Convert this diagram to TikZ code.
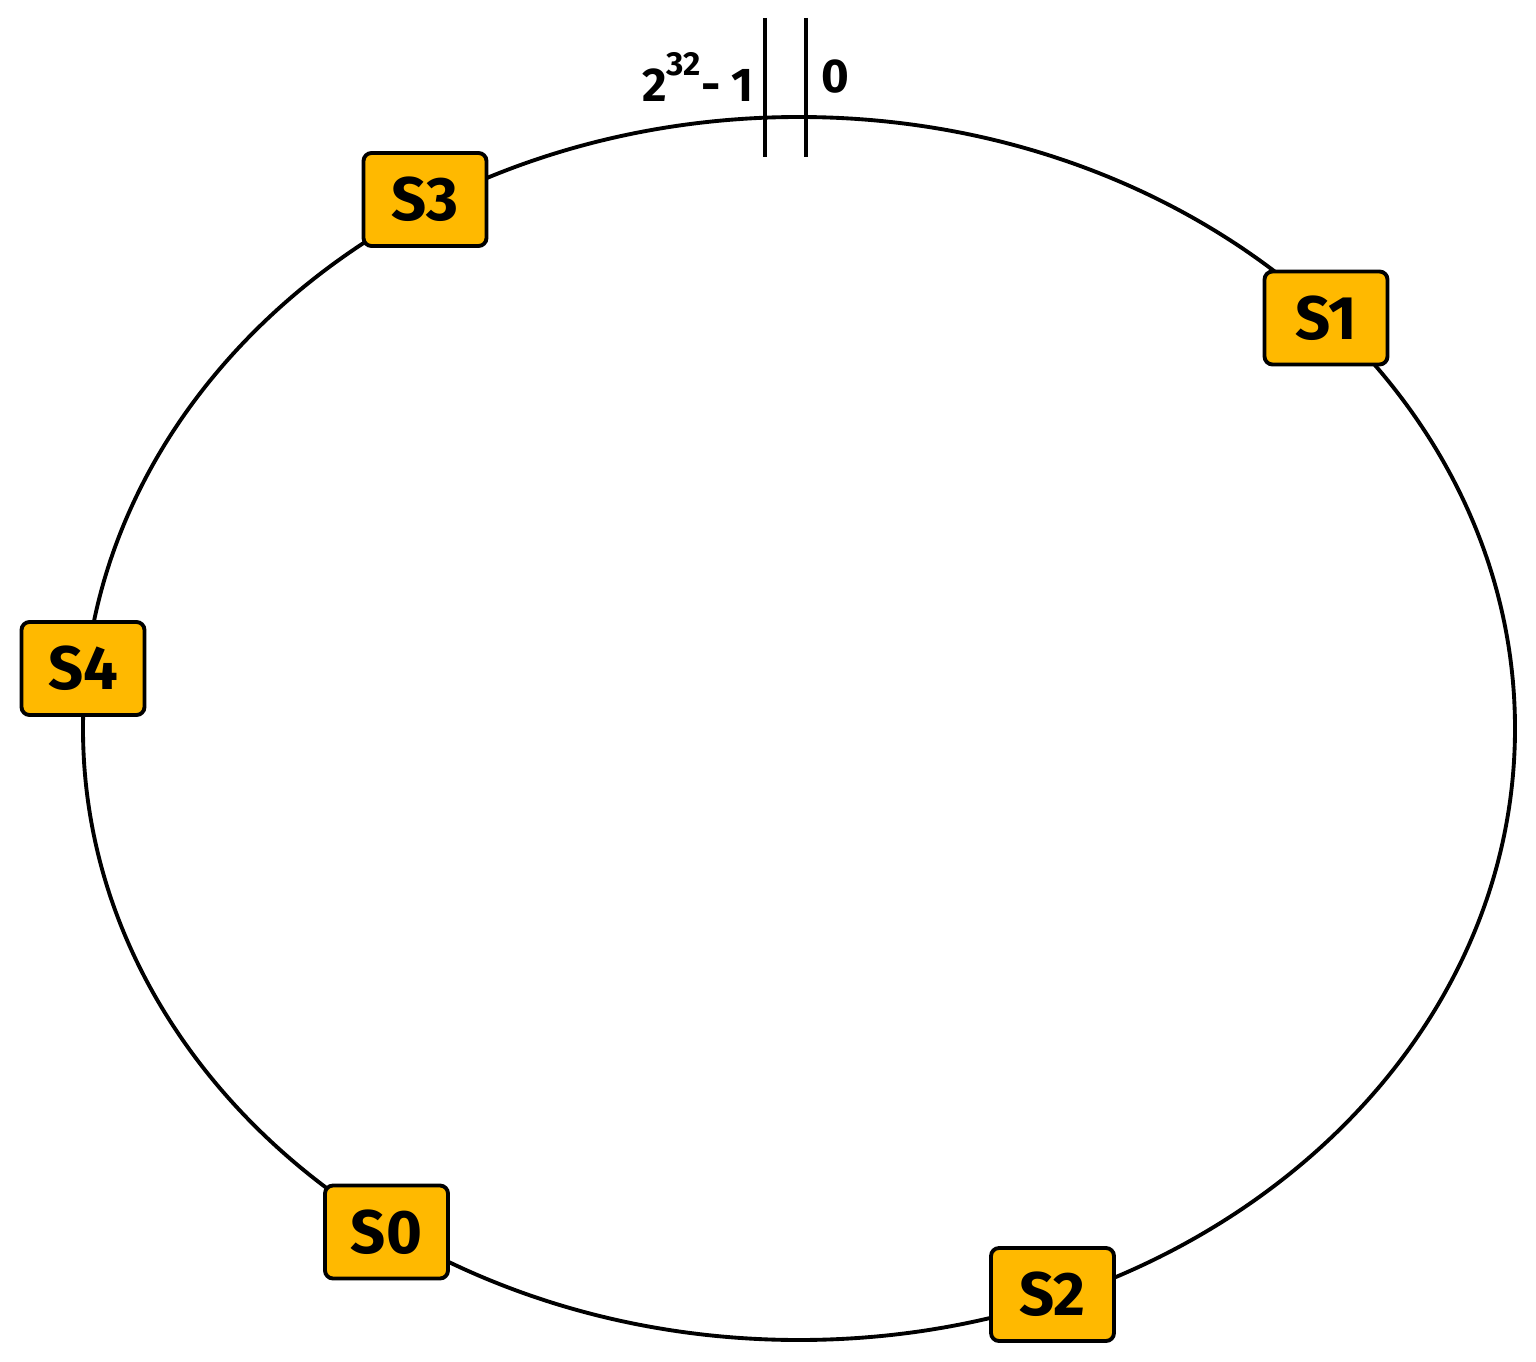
\documentclass[tikz,border=0pt]{standalone}
\usepackage{fontspec}
\setmainfont{Fira Sans}
\definecolor{serverfill}{RGB}{255,185,0}

\tikzset{
    server/.style={draw, line width=2.2pt, fill=serverfill, rounded corners=0.16cm,
        minimum width=2.46cm, minimum height=1.86cm, inner sep=0pt,
        font=\fontsize{35}{40}\selectfont\bfseries},
    ring/.style={line width=2.2pt},
}

\begin{document}
\begin{tikzpicture}[x=0.02cm, y=-0.02cm]
    \useasboundingbox (0, 0) rectangle (1536, 1362);

    % the hash ring
    \draw[ring] (799, 728.5) ellipse [x radius=716, y radius=611.5];

    % wrap-around point
    \draw[ring] (765, 18) -- (765, 157);
    \draw[ring] (806, 18) -- (806, 157);
    \node[anchor=east, inner sep=0pt, font=\fontsize{27}{30}\selectfont\bfseries] (top) at (754, 77)
        {2\raisebox{0.55em}{\fontsize{19}{21}\selectfont\bfseries 32}- 1};
    \node[anchor=west, inner sep=0pt, font=\fontsize{27}{30}\selectfont\bfseries] (zero) at (821, 77) {0};

    % servers
    \node[server] (s3) at (425, 199.5) {S3};
    \node[server] (s1) at (1326, 318) {S1};
    \node[server] (s4) at (83, 668.5) {S4};
    \node[server] (s0) at (386.5, 1232) {S0};
    \node[server] (s2) at (1052.5, 1294.5) {S2};
\end{tikzpicture}
\end{document}
